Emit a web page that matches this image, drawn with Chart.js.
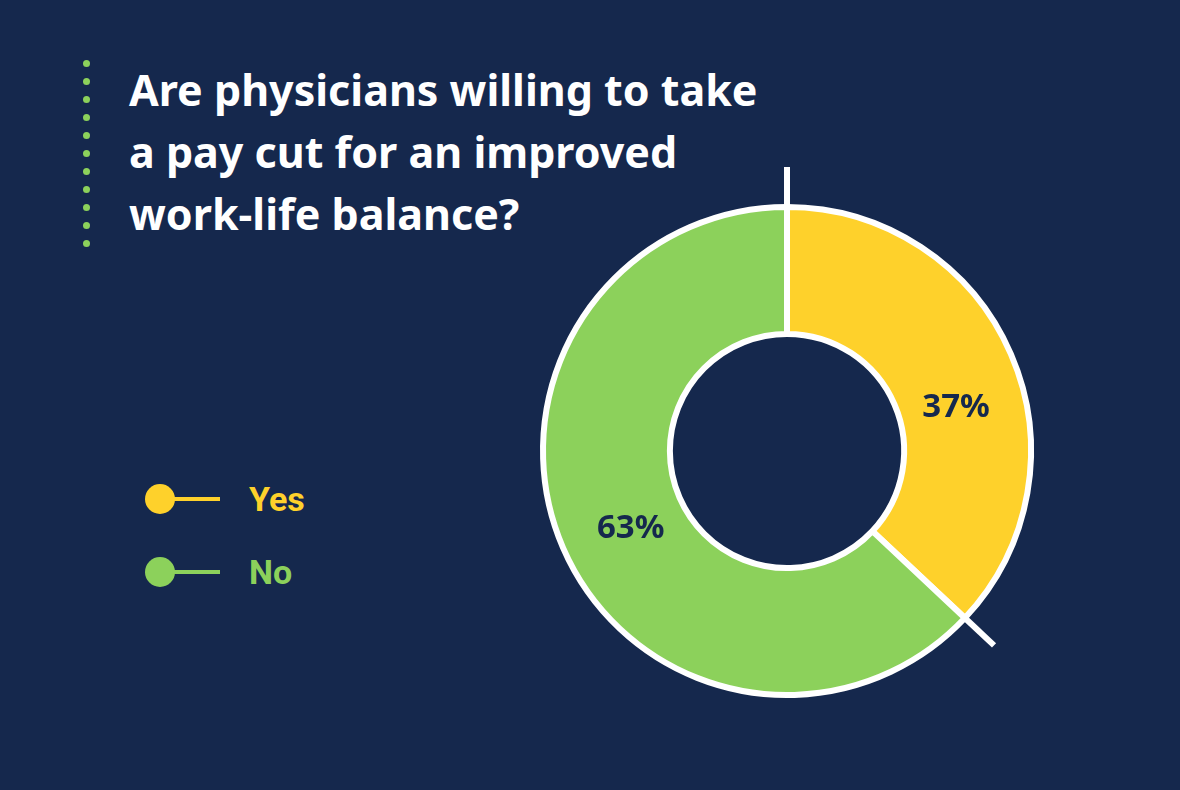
<!DOCTYPE html>
<html>
<head>
<meta charset="utf-8">
<script src="https://cdn.jsdelivr.net/npm/chart.js@4.4.1/dist/chart.umd.min.js"></script>
<style>
  html, body { margin: 0; padding: 0; }
  body { width: 1180px; height: 790px; background: #15284d; position: relative; overflow: hidden; font-family: "Noto Sans", Roboto, sans-serif; }
  #dots { position: absolute; left: 83px; top: 60px; }
  #dots span { display: block; width: 7px; height: 7px; border-radius: 50%; background: #8cd15b; margin-bottom: 11px; }
  #title { position: absolute; left: 129px; top: 59px; color: #fff; font-weight: 700; font-size: 43px; line-height: 62px; margin: 0; }
  #legend { position: absolute; left: 145px; top: 472px; }
  .item { display: flex; align-items: center; height: 54px; margin-bottom: 19px; }
  .dot { width: 30px; height: 30px; border-radius: 50%; }
  .bar { width: 48px; height: 4px; margin-left: -3px; }
  .lbl { margin-left: 29px; font-weight: 700; font-size: 34px; font-family: Roboto, sans-serif; }
  #wrap { position: absolute; left: 487px; top: 151px; width: 600px; height: 600px; }
</style>
</head>
<body>
<div id="dots"></div>
<h1 id="title"></h1>
<div id="legend"></div>
<div id="wrap"><canvas id="donut"></canvas></div>
<script>
const titleLines = ['Are physicians willing to take', 'a pay cut for an improved', 'work-life balance?'];
const categories = ['Yes', 'No'];
const values = [37, 63];
const colors = ['#fed12b', '#8cd15b'];
const labelShift = [9, -3]; // degrees, nudges label from the slice middle

document.getElementById('title').innerHTML = titleLines.join('<br>');

const dots = document.getElementById('dots');
for (let i = 0; i < 11; i++) dots.appendChild(document.createElement('span'));

const legend = document.getElementById('legend');
categories.forEach((c, i) => {
    const row = document.createElement('div');
    row.className = 'item';
    row.innerHTML = '<div class="dot" style="background:' + colors[i] + '"></div>' +
        '<div class="bar" style="background:' + colors[i] + '"></div>' +
        '<div class="lbl" style="color:' + colors[i] + '">' + c + '</div>';
    legend.appendChild(row);
});

// long white ticks at slice edges + percentage labels
const extras = {
    id: 'extras',
    afterDatasetsDraw(chart) {
        const ctx = chart.ctx;
        const arcs = chart.getDatasetMeta(0).data;
        ctx.save();
        ctx.strokeStyle = '#ffffff';
        ctx.lineWidth = 6;
        arcs.forEach(a => {
            const ang = a.startAngle;
            ctx.beginPath();
            ctx.moveTo(a.x + Math.cos(ang) * a.outerRadius, a.y + Math.sin(ang) * a.outerRadius);
            ctx.lineTo(a.x + Math.cos(ang) * (a.outerRadius + 40), a.y + Math.sin(ang) * (a.outerRadius + 40));
            ctx.stroke();
        });
        ctx.fillStyle = '#15284d';
        ctx.font = '700 33px "Noto Sans", Roboto, sans-serif';
        ctx.textAlign = 'center';
        ctx.textBaseline = 'middle';
        arcs.forEach((a, i) => {
            const mid = (a.startAngle + a.endAngle) / 2 + labelShift[i] * Math.PI / 180;
            const r = (a.innerRadius + a.outerRadius) / 2 - 6;
            ctx.fillText(values[i] + '%', a.x + Math.cos(mid) * r, a.y + Math.sin(mid) * r);
        });
        ctx.restore();
    }
};

new Chart(document.getElementById('donut'), {
    type: 'doughnut',
    data: {
        labels: categories,
        datasets: [{
            data: values,
            backgroundColor: colors,
            borderColor: '#ffffff',
            borderWidth: 6,
            hoverOffset: 0
        }]
    },
    options: {
        responsive: true,
        maintainAspectRatio: false,
        animation: false,
        cutout: '48%',
        layout: { padding: 53 },
        plugins: {
            legend: { display: false },
            tooltip: { enabled: false }
        }
    },
    plugins: [extras]
});
</script>
</body>
</html>
